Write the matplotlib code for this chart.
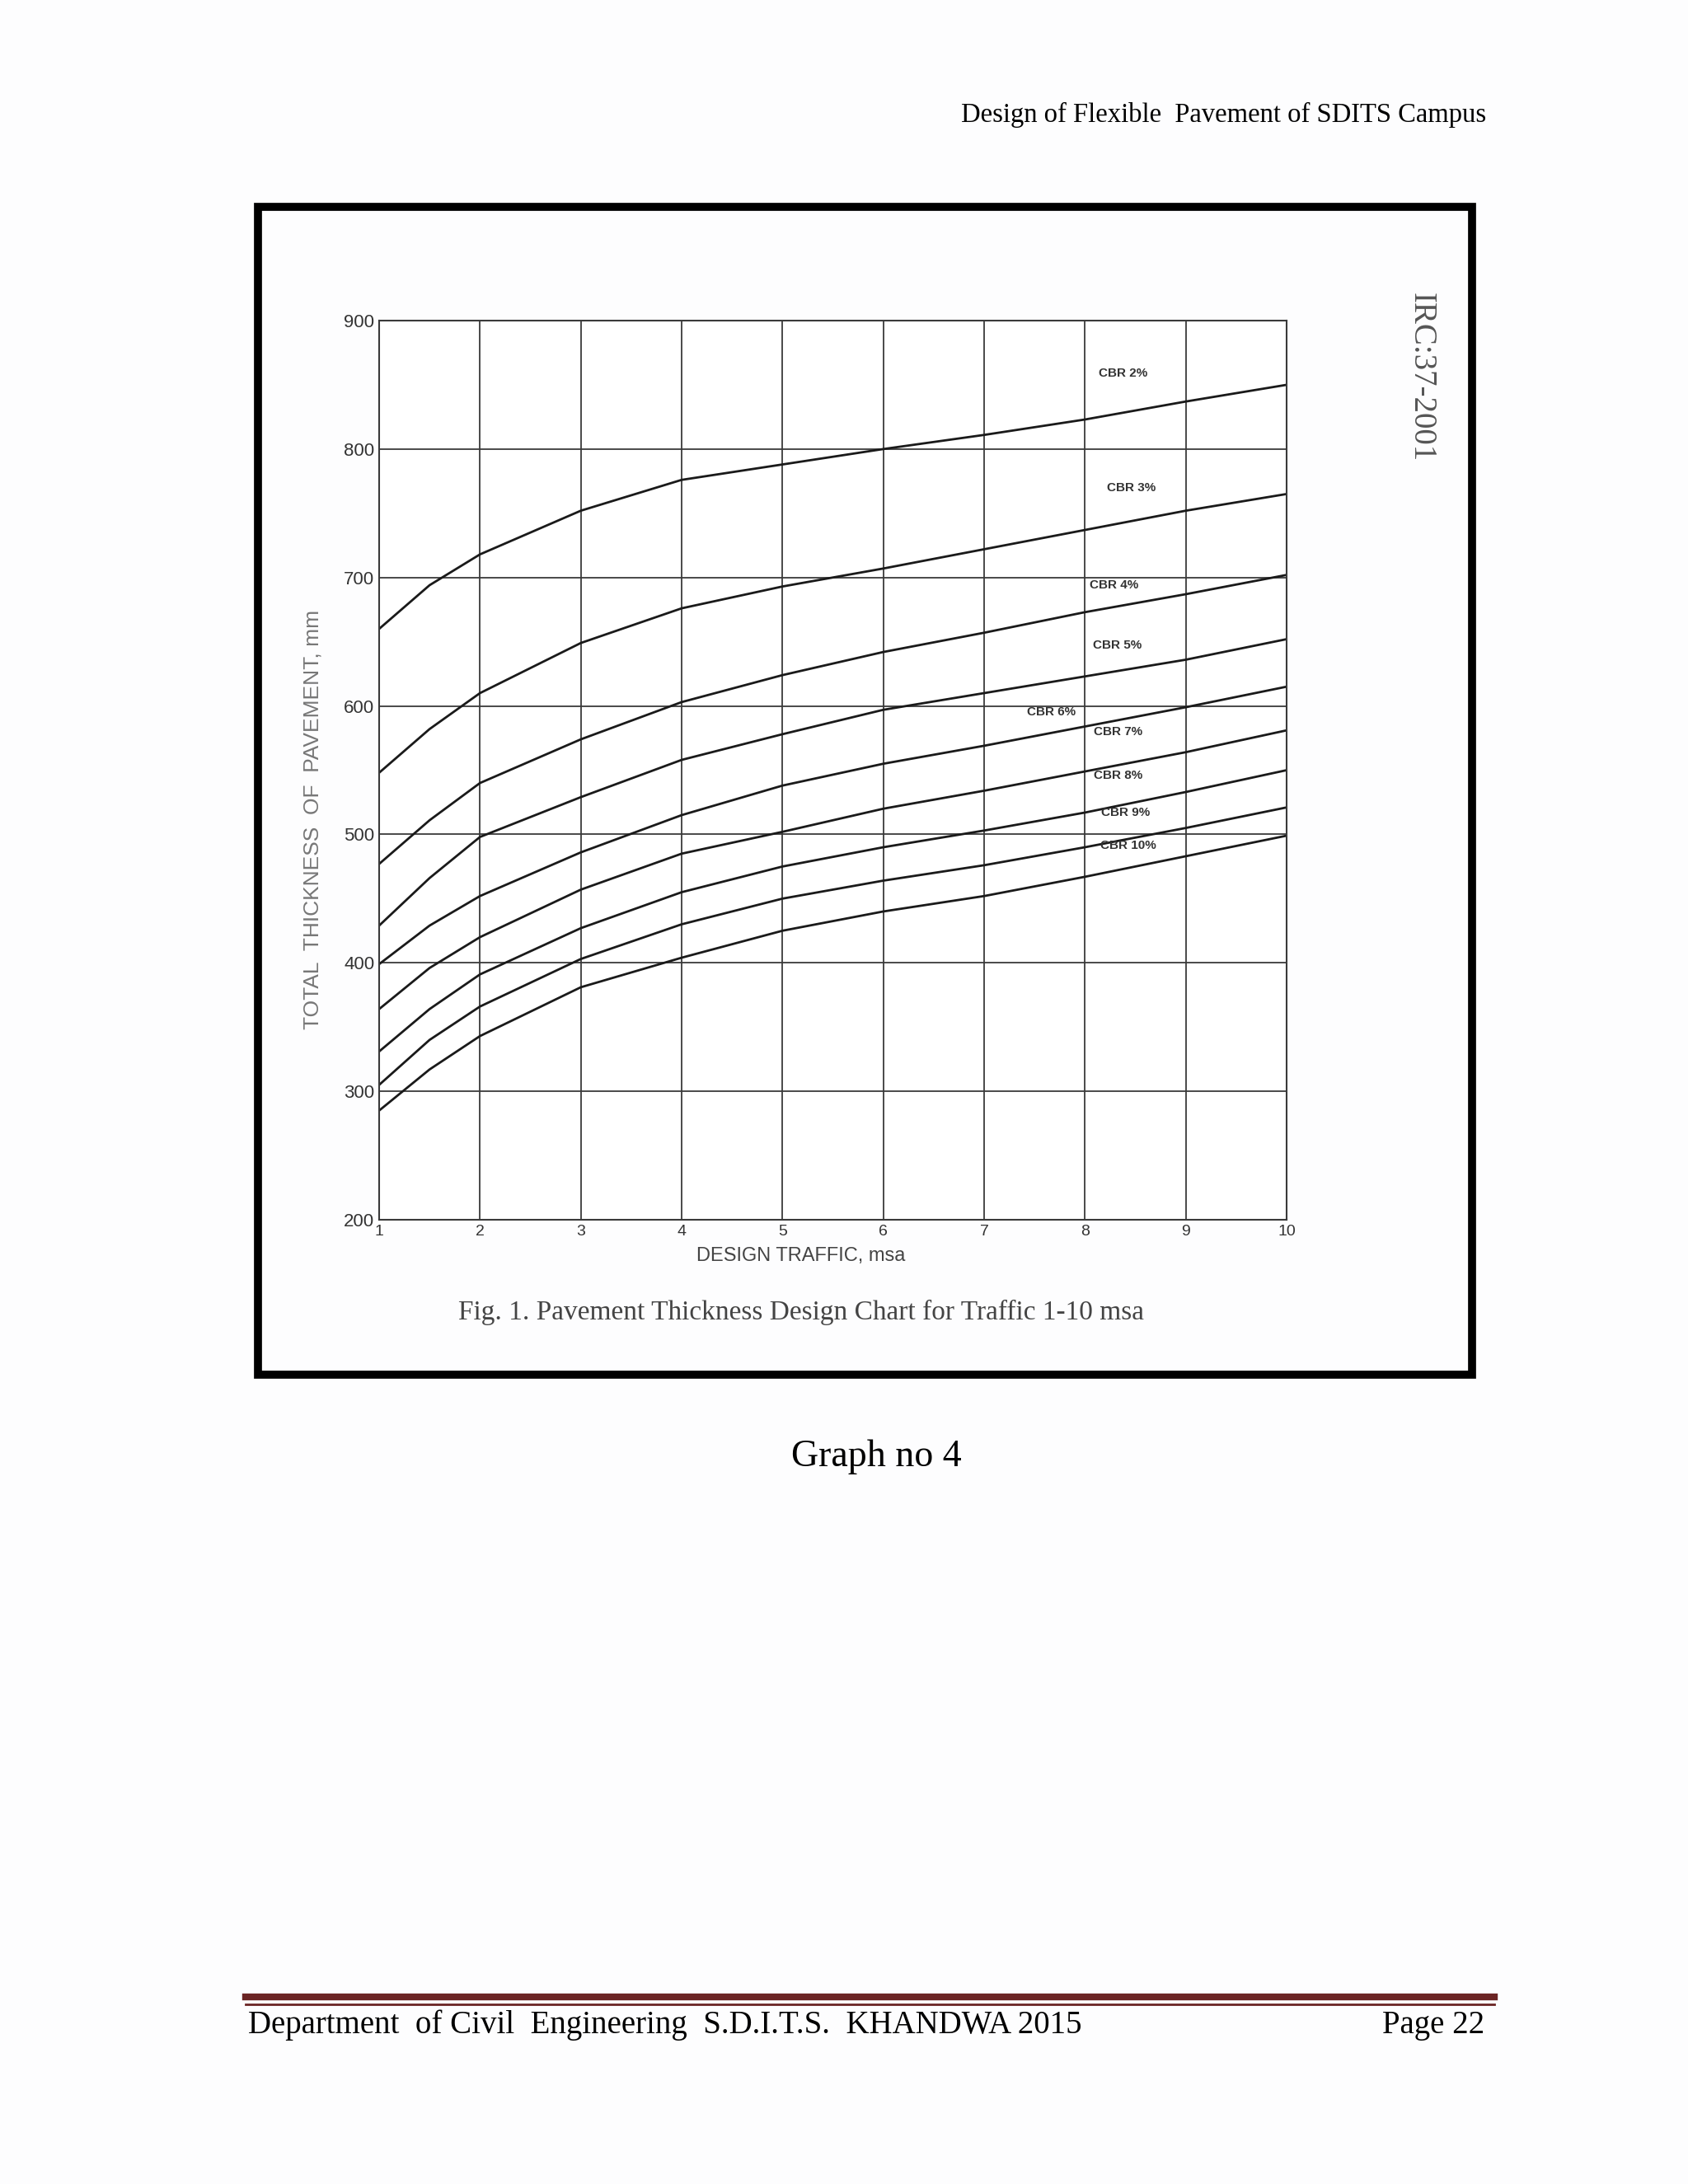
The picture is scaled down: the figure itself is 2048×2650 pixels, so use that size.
import matplotlib
matplotlib.use('Agg')
import matplotlib.pyplot as plt
from matplotlib.patches import Rectangle
from matplotlib.lines import Line2D

# design traffic, msa
traffic = [1, 1.5, 2, 3, 4, 5, 6, 7, 8, 9, 10]

# total pavement thickness (mm), one list per CBR curve
cbr_2 = [660, 694, 718, 752, 776, 788, 800, 811, 823, 837, 850]
cbr_3 = [548, 582, 610, 649, 676, 693, 707, 722, 737, 752, 765]
cbr_4 = [477, 511, 540, 574, 603, 624, 642, 657, 673, 687, 702]
cbr_5 = [429, 466, 498, 529, 558, 578, 597, 610, 623, 636, 652]
cbr_6 = [399, 429, 452, 486, 515, 538, 555, 569, 584, 599, 615]
cbr_7 = [364, 396, 420, 457, 485, 502, 520, 534, 549, 564, 581]
cbr_8 = [331, 364, 391, 427, 455, 475, 490, 503, 517, 533, 550]
cbr_9 = [305, 340, 366, 403, 430, 450, 464, 476, 490, 505, 521]
cbr_10 = [285, 317, 343, 381, 404, 425, 440, 452, 467, 483, 499]

curves = [cbr_2, cbr_3, cbr_4, cbr_5, cbr_6, cbr_7, cbr_8, cbr_9, cbr_10]
curve_labels = ['CBR 2%', 'CBR 3%', 'CBR 4%', 'CBR 5%', 'CBR 6%',
                'CBR 7%', 'CBR 8%', 'CBR 9%', 'CBR 10%']
label_x = [8.38, 8.46, 8.29, 8.32, 7.67, 8.33, 8.33, 8.40, 8.43]
label_y = [859, 770, 694, 647, 595, 580, 546, 517, 491]

x_ticks = [1, 2, 3, 4, 5, 6, 7, 8, 9, 10]
y_ticks = [200, 300, 400, 500, 600, 700, 800, 900]

W, H = 2048, 2650
fig = plt.figure(figsize=(W / 100, H / 100), dpi=100)
fig.patch.set_facecolor('#fdfdfe')

sans = ['Liberation Sans', 'DejaVu Sans']
serif = ['Liberation Serif', 'DejaVu Serif']

def fx(px):
    return px / W

def fy(py):
    return 1 - py / H

# chart axes
ax = fig.add_axes([fx(460), fy(1480), fx(1561) - fx(460), fy(389) - fy(1480)])
ax.set_facecolor('white')
for c in curves:
    ax.plot(traffic, c, color='#1a1a1a', lw=2.0)
for lab, lx, ly in zip(curve_labels, label_x, label_y):
    ax.text(lx, ly, lab, fontsize=11, family=sans, color='#333333',
            ha='center', va='center', fontweight='bold')

ax.set_xlim(1, 10)
ax.set_ylim(200, 900)
ax.set_xticks(x_ticks)
ax.set_yticks(y_ticks)
ax.set_xticklabels([str(v) for v in x_ticks], family=sans, fontsize=14, color='#333333')
ax.set_yticklabels([str(v) for v in y_ticks], family=sans, fontsize=16, color='#333333')
ax.tick_params(length=0, pad=4)
ax.grid(True, color='#3a3a3a', lw=1.3)
for s in ax.spines.values():
    s.set_color('#3a3a3a')
    s.set_linewidth(1.5)

ax.set_xlabel('DESIGN TRAFFIC, msa', family=sans, fontsize=17, color='#444444')
ax.xaxis.set_label_coords(0.465, -0.03)
ax.set_ylabel('TOTAL  THICKNESS  OF  PAVEMENT, mm', family=sans,
              fontsize=19, color='#777777')
ax.yaxis.set_label_coords(-0.062, 0.445)

# caption and side reference
fig.text(fx(972), fy(1592), 'Fig. 1. Pavement Thickness Design Chart for Traffic 1-10 msa',
         family=serif, fontsize=24, color='#444444', ha='center', va='center')
fig.text(fx(1724), fy(458), 'IRC:37-2001', family=serif, fontsize=28, color='#555555',
         rotation=-90, ha='center', va='center')

# thick frame round the scanned figure
fig.add_artist(Rectangle((fx(313), fy(1668)), fx(1786) - fx(313), fy(251) - fy(1668),
                         transform=fig.transFigure, fill=False, lw=7, ec='black'))

# page text
fig.text(fx(1803), fy(139), 'Design of Flexible  Pavement of SDITS Campus',
         family=serif, fontsize=23.5, ha='right', va='center')
fig.text(fx(1063), fy(1768), 'Graph no 4', family=serif, fontsize=33, ha='center', va='center')

fig.add_artist(Line2D([fx(298), fx(1813)], [fy(2423), fy(2423)], transform=fig.transFigure,
                      color='#6b2424', lw=6))
fig.add_artist(Line2D([fx(298), fx(1813)], [fy(2432), fy(2432)], transform=fig.transFigure,
                      color='#6b2424', lw=2))
fig.text(fx(301), fy(2457), 'Department  of Civil  Engineering  S.D.I.T.S.  KHANDWA 2015',
         family=serif, fontsize=28, ha='left', va='center')
fig.text(fx(1801), fy(2457), 'Page 22', family=serif, fontsize=28, ha='right', va='center')

fig.savefig('out.png', dpi=100, facecolor=fig.get_facecolor())
